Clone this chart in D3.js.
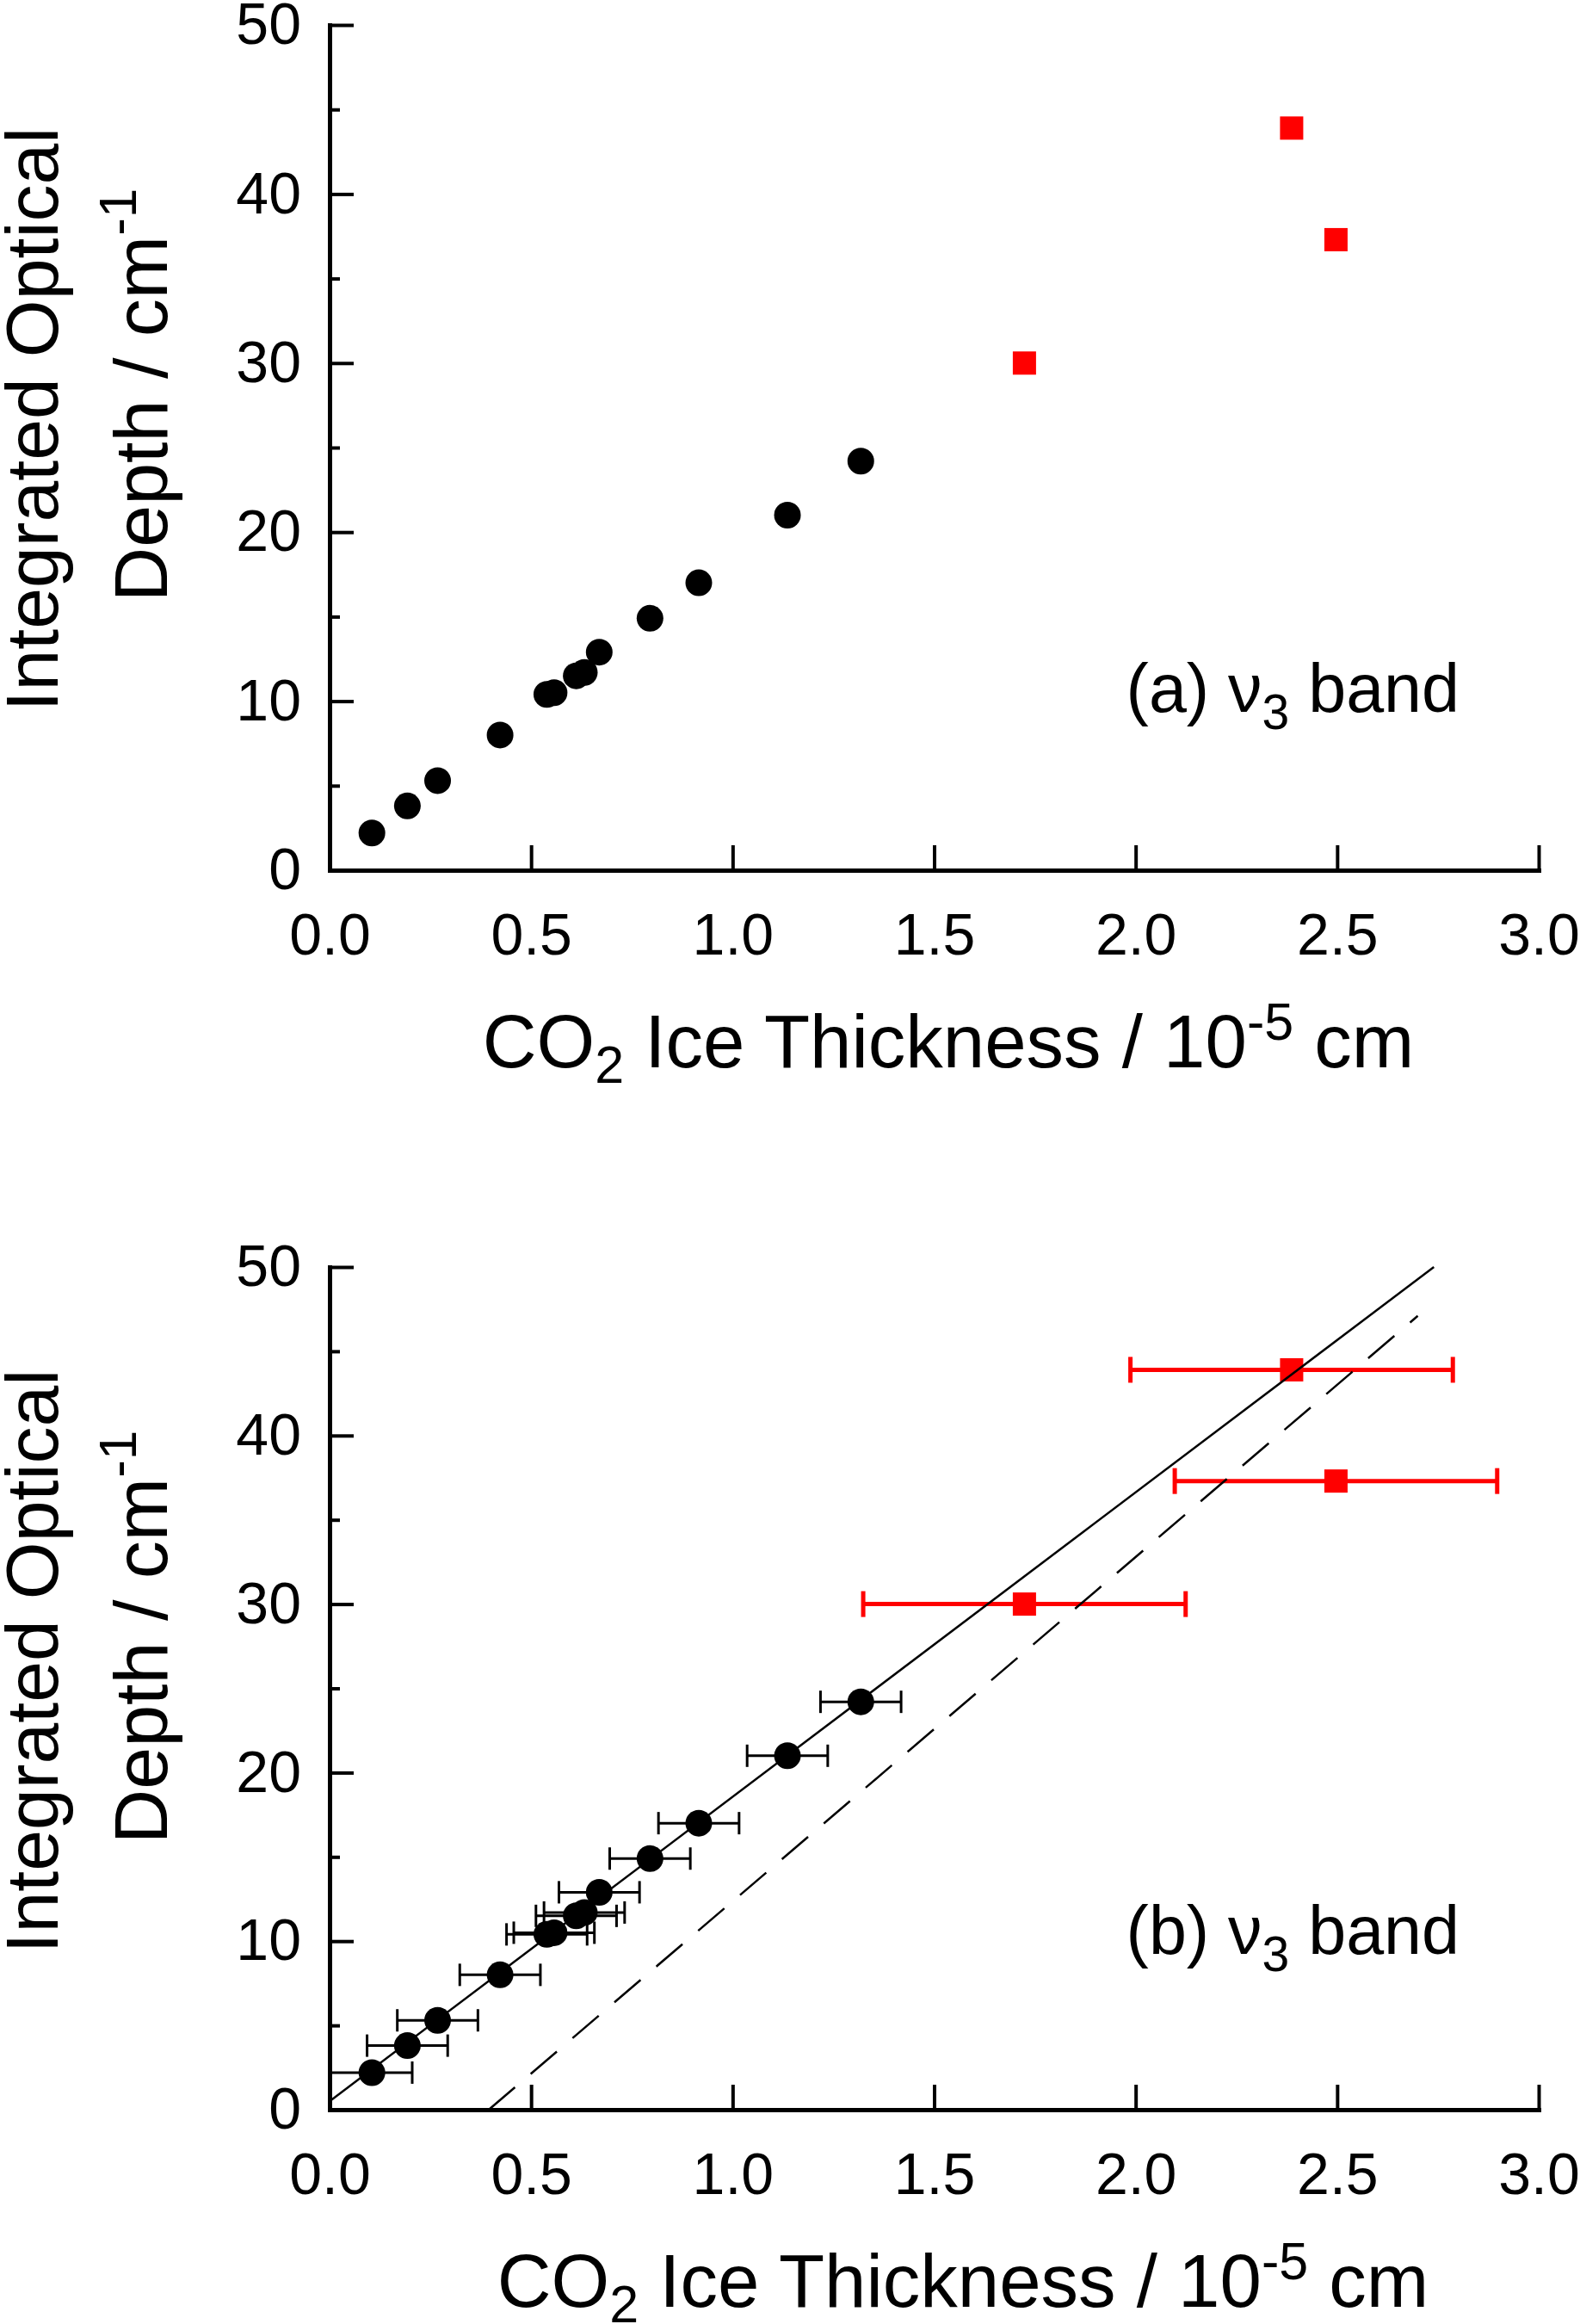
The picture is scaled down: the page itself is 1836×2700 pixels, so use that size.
<!DOCTYPE html>
<html>
    <head>
        <meta charset="utf-8">
        <title>CO2 ice optical depth</title>
        <script src="https://d3js.org/d3.v7.min.js"></script>
        <style>
         html, body { margin: 0; padding: 0; background: white; }
         text { font-family: "Liberation Sans", Arial, sans-serif; fill: black; }
         .axis .domain { stroke: black; stroke-width: 5; stroke-linecap: square; }
         .axis .tick line { stroke: black; stroke-width: 4; }
         .axis .tick text { font-size: 68px; font-family: "Liberation Sans", Arial, sans-serif; }
        </style>
    </head>
    <body>
        <div id="plot"></div>
        <script>
         // black circles: thickness (10^-5 cm) vs integrated optical depth (cm^-1)
         const thickness = [0.105, 0.193, 0.268, 0.423, 0.539, 0.557, 0.612, 0.632, 0.669, 0.795, 0.916, 1.136, 1.318]
         const depth     = [2.2, 3.8, 5.3, 8.0, 10.4, 10.5, 11.5, 11.7, 12.9, 14.9, 17.0, 21.0, 24.2]
         const thickErr  = [0.1, 0.1, 0.1, 0.1, 0.1, 0.1, 0.1, 0.1, 0.1, 0.1, 0.1, 0.1, 0.1]
         // red squares
         const thicknessRed = [1.724, 2.387, 2.497]
         const depthRed     = [30.0, 43.9, 37.3]
         const thickErrRed  = [0.4, 0.4, 0.4]
         // lines in panel (b)
         const fitLine = [[0, 0.5], [2.74, 50]]
         const refLine = [[0.395, 0], [2.70, 47.1]]
         // axes
         const xTicks = [0, 0.5, 1.0, 1.5, 2.0, 2.5, 3.0]
         const yTicks = [0, 10, 20, 30, 40, 50]
         const yMinor = [5, 15, 25, 35, 45]
         const panelLabels = ["(a)", "(b)"]

         const svg = d3.select("#plot").append("svg")
                       .attr("width", 1836)
                       .attr("height", 2700)
         svg.append("rect").attr("width", 1836).attr("height", 2700).attr("fill", "white")

         const left = 383, right = 1788
         const x = d3.scaleLinear().domain([0, 3]).range([left, right])

         const pts = thickness.map((t, i) => ({x: t, y: depth[i], e: thickErr[i]}))
         const ptsRed = thicknessRed.map((t, i) => ({x: t, y: depthRed[i], e: thickErrRed[i]}))

         const drawPanel = (top, bottom, idx, withFit) => {
             const y = d3.scaleLinear().domain([0, 50]).range([bottom, top])
             const g = svg.append("g")

             const errBars = (data, color, width, cap) => {
                 const eb = g.append("g").attr("stroke", color).attr("stroke-width", width)
                 eb.selectAll(".bar").data(data).join("line")
                   .attr("x1", d => x(Math.max(0, d.x - d.e))).attr("x2", d => x(d.x + d.e))
                   .attr("y1", d => y(d.y)).attr("y2", d => y(d.y))
                 eb.selectAll(".capL").data(data.filter(d => d.x - d.e > 0.02)).join("line")
                   .attr("x1", d => x(d.x - d.e)).attr("x2", d => x(d.x - d.e))
                   .attr("y1", d => y(d.y) - cap).attr("y2", d => y(d.y) + cap)
                 eb.selectAll(".capR").data(data).join("line")
                   .attr("x1", d => x(d.x + d.e)).attr("x2", d => x(d.x + d.e))
                   .attr("y1", d => y(d.y) - cap).attr("y2", d => y(d.y) + cap)
             }

             if (withFit) errBars(ptsRed, "#ff0000", 5, 15)

             g.append("g").selectAll("rect").data(ptsRed).join("rect")
              .attr("x", d => x(d.x) - 13.5).attr("y", d => y(d.y) - 13.5)
              .attr("width", 27).attr("height", 27)
              .attr("fill", "#ff0000")

             if (withFit) {
                 const line = d3.line().x(d => x(d[0])).y(d => y(d[1]))
                 g.append("path").datum(fitLine).attr("d", line)
                  .attr("fill", "none").attr("stroke", "black").attr("stroke-width", 2.5)
                 g.append("path").datum(refLine).attr("d", line)
                  .attr("fill", "none").attr("stroke", "black").attr("stroke-width", 2.5)
                  .attr("stroke-dasharray", "40 24")
                 errBars(pts, "black", 3, 13)
             }

             g.append("g").selectAll("circle").data(pts).join("circle")
              .attr("cx", d => x(d.x)).attr("cy", d => y(d.y))
              .attr("r", 15.5).attr("fill", "black")

             // axes, ticks pointing inward
             g.append("g").attr("class", "axis")
              .attr("transform", `translate(0,${bottom})`)
              .call(d3.axisBottom(x).tickValues(xTicks).tickSize(-29).tickSizeOuter(0)
                      .tickPadding(50).tickFormat(d3.format(".1f")))
             g.append("g").attr("class", "axis")
              .attr("transform", `translate(${left},0)`)
              .call(d3.axisLeft(y).tickValues(yTicks).tickSize(-28).tickSizeOuter(0)
                      .tickPadding(33).tickFormat(d3.format("d")))
             const minor = g.append("g").attr("class", "axis")
              .attr("transform", `translate(${left},0)`)
              .call(d3.axisLeft(y).tickValues(yMinor).tickSize(-12).tickFormat(""))
             minor.select(".domain").remove()
             g.selectAll(".axis .tick text").attr("fill", "black")

             // x title
             const xt = g.append("text").attr("x", 1102 + idx * 17).attr("y", bottom + 229)
                         .attr("text-anchor", "middle").style("font-size", "87px")
             xt.append("tspan").text("CO")
             xt.append("tspan").attr("dy", 18).style("font-size", "61px").text("2")
             xt.append("tspan").attr("dy", -18).text(" Ice Thickness / 10")
             xt.append("tspan").attr("dy", -32).style("font-size", "61px").text("-5")
             xt.append("tspan").attr("dy", 32).text(" cm")

             // y title, two lines
             g.append("text").attr("transform", `translate(67,${top + 458}) rotate(-90)`)
              .attr("text-anchor", "middle").style("font-size", "86px")
              .text("Integrated Optical")
             const yt = g.append("text").attr("transform", `translate(194,${top + 430}) rotate(-90)`)
                         .attr("text-anchor", "middle").style("font-size", "88px")
             yt.append("tspan").text("Depth / cm")
             yt.append("tspan").attr("dy", -36).style("font-size", "62px").text("-1")

             // panel label
             const lb = g.append("text").attr("x", 1696).attr("y", top + 798)
                         .attr("text-anchor", "end").style("font-size", "79px")
             lb.append("tspan").text(panelLabels[idx] + " ν")
             lb.append("tspan").attr("dy", 20).style("font-size", "57px").text("3")
             lb.append("tspan").attr("dy", -20).text(" band")
         }

         drawPanel(29, 1011, 0, false)
         drawPanel(1472, 2451, 1, true)
        </script>
    </body>
</html>
